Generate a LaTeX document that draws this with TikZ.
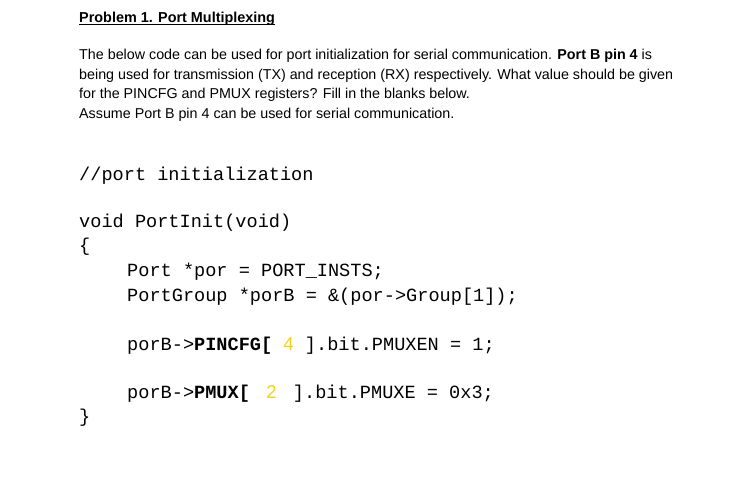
\documentclass[tikz,border=0pt]{standalone}
\usepackage{fontspec}
\setmainfont{Liberation Sans}
\newfontfamily\codef{Liberation Mono}
\definecolor{ans}{HTML}{F2D21B}
\begin{document}
\begin{tikzpicture}[x=1pt,y=-1pt,
  para/.style={anchor=base west,inner sep=0pt,font=\fontsize{14.3}{16}\selectfont},
  code/.style={anchor=base west,inner sep=0pt,font=\codef\fontsize{18.6}{20}\selectfont}]
\useasboundingbox (0,0) rectangle (743,492);
\node[para,font=\bfseries\fontsize{14.4}{16}\selectfont] (t) at (79,23) {Problem 1. Port Multiplexing};
\draw[line width=1pt] ([yshift=-2pt]t.base west) -- ([yshift=-2pt]t.base east);
\node[para] (p1) at (79,60) {The below code can be used for port initialization for serial communication. \textbf{Port B pin 4} is};
\node[para] (p2) at (79,80) {being used for transmission (TX) and reception (RX) respectively. What value should be given};
\node[para] (p3) at (79,99) {for the PINCFG and PMUX registers? Fill in the blanks below.};
\node[para] (p4) at (79,118) {Assume Port B pin 4 can be used for serial communication.};
\node[code] (c1) at (79,180) {//port initialization};
\node[code] (c2) at (79,227) {void PortInit(void)};
\node[code] (c3) at (79,251) {\{};
\node[code] (c4) at (127,276) {Port *por = PORT\_INSTS;};
\node[code] (c5) at (127,301) {PortGroup *porB = \&(por->Group[1]);};
\node[code] (c6) at (127,350) {porB->\textbf{PINCFG[} \textcolor{ans}{\rmfamily 4} ].bit.PMUXEN = 1;};
\node[code] (c7) at (127,398) {porB->\textbf{PMUX[} \textcolor{ans}{\rmfamily\ 2\ } ].bit.PMUXE = 0x3;};
\node[code] (c8) at (79,422) {\}};
\end{tikzpicture}
\end{document}
